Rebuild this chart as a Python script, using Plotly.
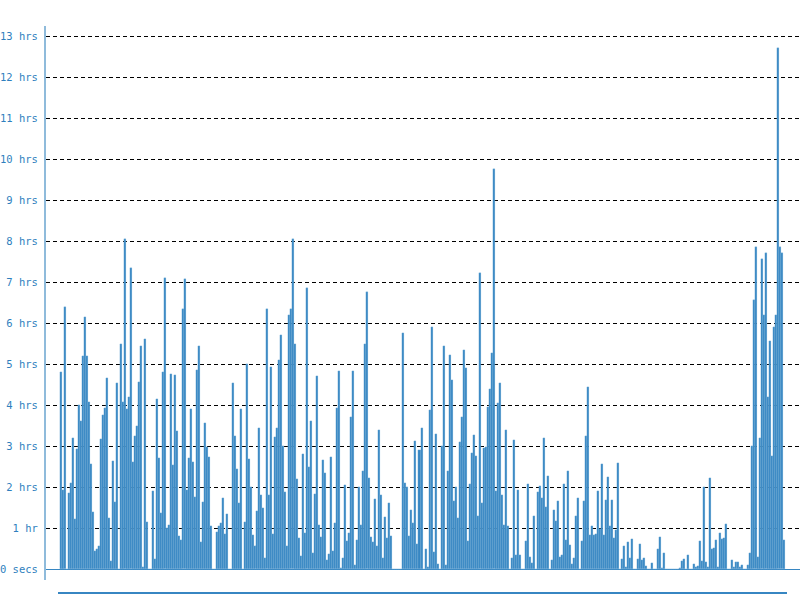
import plotly.graph_objects as go
import pandas as pd

# Daily durations in hours (left to right)
seg_a = [4.8, 1.93, 6.4, 0, 1.85, 2.1, 3.2, 1.22, 2.93, 4.0, 3.62, 5.2, 6.15, 5.2, 4.08,
         2.56, 1.39, 0.45, 0.48, 0.56, 3.18, 3.76, 3.93, 4.66, 1.24, 0.19, 2.64, 1.63,
         4.53, 0, 5.5, 4.08, 8.05, 3.9, 4.2, 7.35, 2.6, 3.25, 3.5, 4.55, 5.45, 0.05, 5.6,
         1.15, 0, 0, 1.9, 0.25, 4.15, 2.7]
seg_b = [1.36, 4.8, 7.1, 1.0, 1.07, 4.75, 2.53, 4.72, 3.37, 0.8, 0.71, 6.35, 7.08, 1.93,
         2.7, 3.9, 2.6, 1.75, 4.86, 5.43, 0.65, 1.63, 3.55, 2.98, 2.74, 1.06, 0, 0, 0.9,
         1.06, 1.13, 1.72, 0.85, 1.33, 0, 0, 4.53, 3.24, 2.43, 1.61, 3.9, 0, 1.14, 5.0,
         2.68, 2.0, 0.82, 0.56, 1.42, 3.45, 1.8, 1.49, 0.28, 6.35, 1.8, 4.92, 0.85, 3.23,
         3.44, 5.1, 5.7, 3.0, 1.88, 0.57, 6.2]
seg_c = [6.35, 8.05, 5.5, 2.19, 0.76, 0.32, 2.8, 0.88, 6.85, 2.48, 3.6, 0.38, 1.83, 4.7,
         1.07, 0.79, 2.66, 2.34, 0.22, 0.37, 2.74, 0.45, 1.13, 3.92, 4.83, 0.03, 0.26,
         2.05, 0.68, 0.89, 3.7, 4.84, 0.1, 0.7, 2.0, 1.07, 2.4, 5.48, 6.75, 2.23, 0.77,
         0.65, 1.7, 0.57, 3.4, 1.8, 0.27, 1.28, 0.75, 1.6, 0.8, 0, 0, 0, 0, 0]
seg_d = [5.75, 2.1, 2.0, 0.8, 1.45, 1.13, 3.12, 0.6, 2.9, 3.45, 0, 0.5, 0.06, 3.87, 5.9,
         0.42, 3.3, 0.12, 0, 3.0, 5.45, 0.1, 2.38, 5.22, 4.6, 1.65, 2.0, 1.24, 3.1, 3.7,
         5.33, 4.9, 0.69, 2.07, 2.82, 3.28, 2.75, 1.3, 7.22, 1.61, 2.95, 2.98, 3.96, 4.38,
         5.27, 9.75, 1.9, 4.05, 4.53, 1.8, 1.07, 3.4, 1.05, 0, 0.27, 3.15, 0.35, 1.93,
         0.35, 0, 0, 0.68, 2.07, 0.3]
seg_e = [0.14, 1.3, 0, 1.87, 2.02, 1.72, 3.2, 1.52, 2.27, 0, 0.23, 1.45, 1.17, 1.65, 0.3,
         0.35, 2.08, 0.71, 2.4, 0.59, 0.11, 0.28, 1.3, 1.74, 0, 0.69, 1.65, 3.25, 4.44,
         0.82, 1.04, 0.84, 0.86, 1.9, 0.97, 2.57, 0.83, 1.68, 2.24, 1.05, 1.68, 0.75,
         0.95, 2.59, 0, 0.24, 0.56, 0.04, 0.65, 0.27, 0.73, 0, 0, 0.25, 0.6, 0.23, 0.28,
         0.08]
seg_f = [0, 0, 0.14, 0, 0, 0.49, 0.78, 0.03, 0.39, 0, 0, 0, 0, 0, 0, 0, 0.03, 0.2, 0.25,
         0, 0.33, 0, 0, 0.13, 0.05, 0.07, 0.69, 0.2, 2.01, 0.18, 0.04, 2.23, 0.5, 0.52,
         0.71, 0.04, 0.88, 0.74, 0.76, 1.1, 0, 0, 0.22, 0.05, 0.18, 0.18, 0.06, 0.09, 0,
         0, 0.09, 0.38, 3.0, 6.57, 7.85, 0.3, 3.2, 7.55, 6.2, 7.7, 4.2, 5.55, 2.75, 5.9,
         6.2, 12.7, 7.85, 7.7, 0.7]

hours = seg_a + seg_b + seg_c + seg_d + seg_e + seg_f
days = pd.date_range("2019-01-01", periods=len(hours), freq="D")

tick_values = list(range(0, 14))
tick_labels = ["0 secs", "1 hr"] + [f"{h} hrs" for h in range(2, 14)]

BAR = "#3786c2"
n = len(hours)
step_px = (784 - 61) / (n - 1)
one_day = pd.Timedelta(days=1)
x_lo = days[0] - one_day * ((61 - 46) / step_px)
x_hi = days[-1] + one_day * ((800 - 784) / step_px)

fig = go.Figure(go.Bar(
    x=days, y=hours,
    marker=dict(color=BAR, line=dict(color="#8fc0e4", width=0.25)),
    hoverinfo="skip",
))

fig.update_layout(
    template="none",
    width=800, height=600,
    margin=dict(l=46, r=0, t=26, b=20, autoexpand=False),
    paper_bgcolor="white", plot_bgcolor="white",
    bargap=0.0,
    showlegend=False,
    xaxis=dict(range=[x_lo, x_hi], showticklabels=False, showgrid=False,
               zeroline=False, showline=False, ticks=""),
    yaxis=dict(range=[-11 / 41, 13 + 10 / 41], tickvals=tick_values, ticktext=tick_labels,
               showgrid=True, gridcolor="black", gridwidth=1, griddash="4px,3px",
               zeroline=True, zerolinecolor=BAR, zerolinewidth=1,
               showline=True, linecolor="#8fbbdb", linewidth=2,
               ticks="", ticklabelstandoff=4,
               tickfont=dict(family="DejaVu Sans Mono", size=10.5, color="#2f7fbe")),
    shapes=[dict(type="line", xref="x", yref="paper",
                 x0=days[0] - one_day * 1.5, x1=days[-1] + one_day * 1.5,
                 y0=-13 / 554, y1=-13 / 554,
                 line=dict(color=BAR, width=2))],
)

fig.write_html("out.html",
               config={"displayModeBar": False},
               post_script="document.body.style.margin='0';document.body.style.overflow='hidden';")
